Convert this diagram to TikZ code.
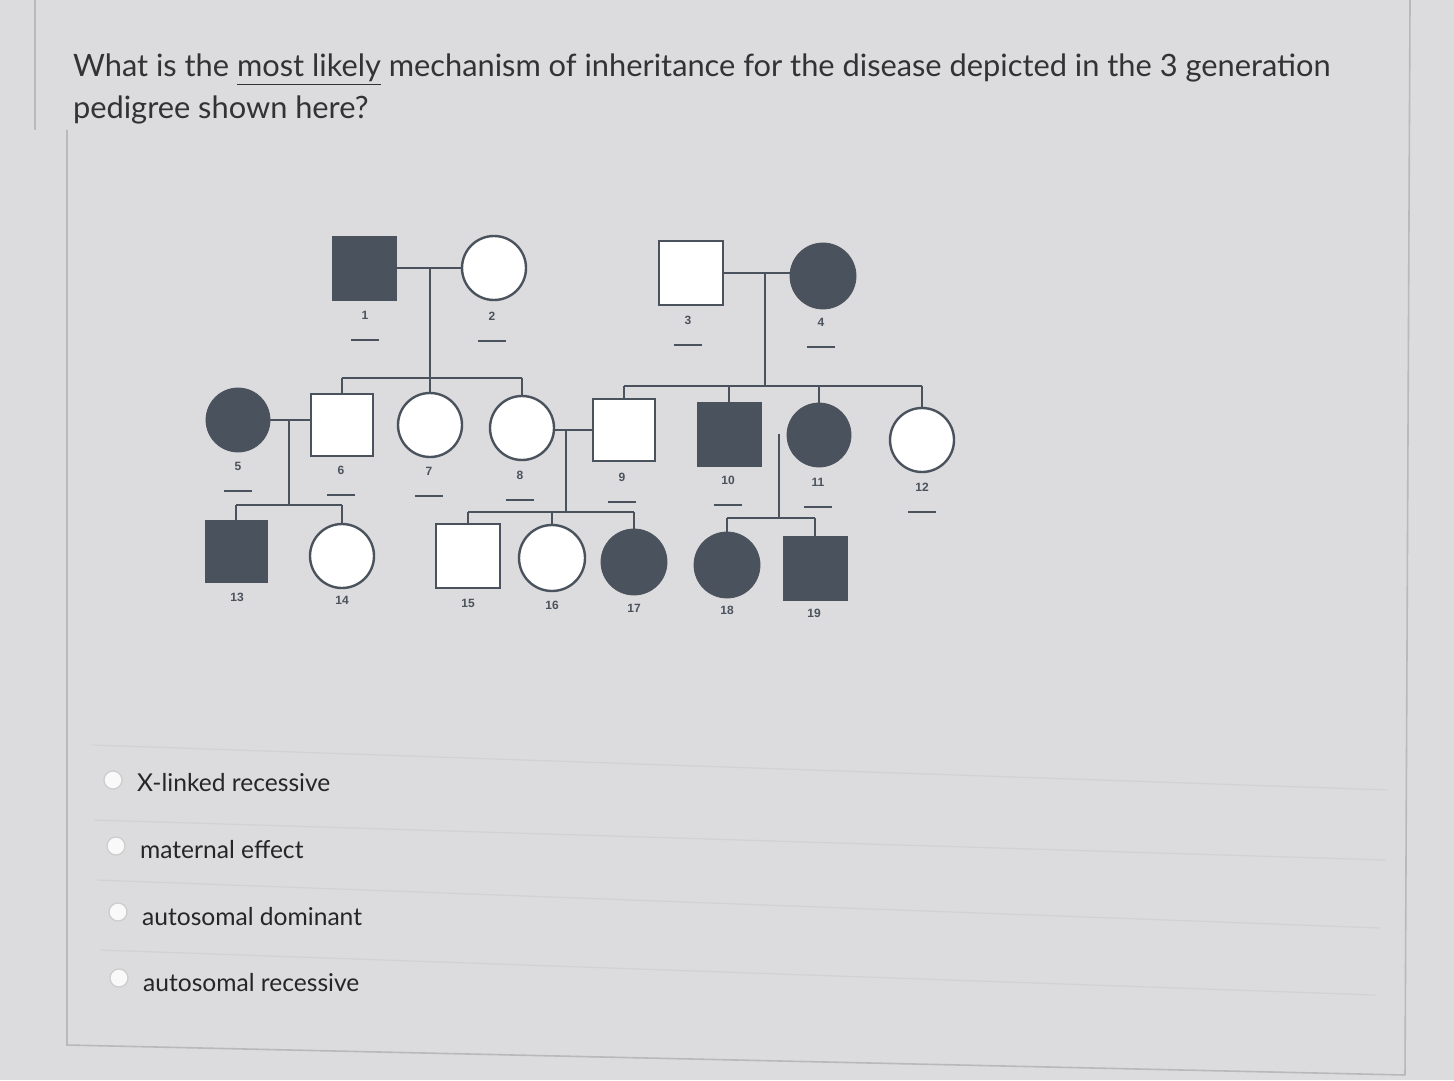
\documentclass[tikz,border=0pt]{standalone}
\usepackage{fontspec}
\setmainfont{Lato}
\newfontfamily\numf{Liberation Sans}
\begin{document}
\begin{tikzpicture}[x=0.5pt,y=-0.5pt,
  aff/.style={fill=dk,draw=dk},
  un/.style={fill=white,draw=dk,line width=1.2pt},
  ln/.style={draw=dk,line width=0.9pt},
  num/.style={font=\numf\fontsize{6}{7}\selectfont\bfseries,text=dk},
  opt/.style={font=\fontsize{12.3}{14}\selectfont,text=black!85,anchor=west},
  rad/.style={draw=gray!40,fill=white!95!gray,line width=0.6pt},
  sep/.style={draw=gray!35,line width=0.6pt}]
\definecolor{dk}{HTML}{4A535D}
\definecolor{bg}{HTML}{DCDBDD}
\fill[bg] (0,0) rectangle (1454,1080);
\useasboundingbox (0,0) rectangle (1454,1080);
\draw[gray!55,line width=0.8pt] (35,0) -- (35,130) (67,130) -- (67,1045) -- (1405,1075) (1410,0) -- (1405,1075);
\node[anchor=west,font=\fontsize{15.4}{18}\selectfont,text=black!80] (t1) at (66,70) {What is the \underline{most likely} mechanism of inheritance for the disease depicted in the 3 generation};
\node[anchor=west,font=\fontsize{15.4}{18}\selectfont,text=black!80] (t2) at (66,110) {pedigree shown here?};
% generation I
\node[aff,minimum size=32pt,inner sep=0,rectangle] (p1) at (364,268) {};
\node[un,circle,minimum size=32pt,inner sep=0] (p2) at (494,268) {};
\node[un,rectangle,minimum size=32pt,inner sep=0] (p3) at (691,273) {};
\node[aff,circle,minimum size=33pt,inner sep=0] (p4) at (823,276) {};
% generation II
\node[aff,circle,minimum size=32pt,inner sep=0] (p5) at (238,420) {};
\node[un,rectangle,minimum size=31pt,inner sep=0] (p6) at (342,425) {};
\node[un,circle,minimum size=32pt,inner sep=0] (p7) at (430,425) {};
\node[un,circle,minimum size=32pt,inner sep=0] (p8) at (522,428) {};
\node[un,rectangle,minimum size=31pt,inner sep=0] (p9) at (624,430) {};
\node[aff,rectangle,minimum size=32pt,inner sep=0] (p10) at (729,434) {};
\node[aff,circle,minimum size=32pt,inner sep=0] (p11) at (819,435) {};
\node[un,circle,minimum size=32pt,inner sep=0] (p12) at (922,440) {};
% generation III
\node[aff,rectangle,minimum size=31pt,inner sep=0] (p13) at (236,551) {};
\node[un,circle,minimum size=32pt,inner sep=0] (p14) at (342,556) {};
\node[un,rectangle,minimum size=32pt,inner sep=0] (p15) at (468,556) {};
\node[un,circle,minimum size=33pt,inner sep=0] (p16) at (552,558) {};
\node[aff,circle,minimum size=33pt,inner sep=0] (p17) at (634,562) {};
\node[aff,circle,minimum size=33pt,inner sep=0] (p18) at (727,565) {};
\node[aff,rectangle,minimum size=32pt,inner sep=0] (p19) at (815,568) {};
% marriages and descent
\coordinate (m12) at (430,268); \coordinate (s12) at (430,378);
\draw[ln] (p1.east) -- (p2.west) (m12) -- (s12) (p6.north|-s12) -- (p8.north|-s12);
\foreach \c in {p6,p7,p8} \draw[ln] (\c.north|-s12) -- (\c.north);
\coordinate (m34) at (765,273); \coordinate (s34) at (765,386);
\draw[ln] (p3.east) -- (m34|-p3.east) (m34|-p3.east) -- (p4.west|-p3.east) (m34) -- (s34) (p9.north|-s34) -- (p12.north|-s34);
\foreach \c in {p9,p10,p11,p12} \draw[ln] (\c.north|-s34) -- (\c.north);
\coordinate (m56) at (289,420); \coordinate (s56) at (289,505);
\draw[ln] (p5.east) -- (p6.west|-p5.east) (m56) -- (s56) (p13.north|-s56) -- (p14.north|-s56);
\foreach \c in {p13,p14} \draw[ln] (\c.north|-s56) -- (\c.north);
\coordinate (m89) at (566,430); \coordinate (s89) at (566,512);
\draw[ln] (p8.east|-m89) -- (p9.west|-m89) (m89) -- (s89) (p15.north|-s89) -- (p17.north|-s89);
\foreach \c in {p15,p16,p17} \draw[ln] (\c.north|-s89) -- (\c.north);
\coordinate (m1011) at (779,434); \coordinate (s1011) at (779,518);
\draw[ln] (m1011) -- (s1011) (p18.north|-s1011) -- (p19.north|-s1011);
\foreach \c in {p18,p19} \draw[ln] (\c.north|-s1011) -- (\c.north);
% labels gen I/II
\foreach \n/\x/\y in {1/365/315,2/492/316,3/688/320,4/821/322,5/238/466,6/341/470,7/429/471,8/520/475,9/622/477,10/728/480,11/818/482,12/922/487}{
  \node[num] (l\n) at (\x,\y) {\n};
  \draw[ln,line width=0.7pt] (\x-14,\y+25) -- (\x+14,\y+25);
}
\foreach \n/\x/\y in {13/237/597,14/342/600,15/468/603,16/552/605,17/634/608,18/727/610,19/814/613}{
  \node[num] (l\n) at (\x,\y) {\n};
}
% options
\draw[sep] (92,745) -- (1388,790);
\draw[sep] (95,820) -- (1385,860);
\draw[sep] (97,880) -- (1380,928);
\draw[sep] (100,950) -- (1375,995);
\node[rad,circle,minimum size=9pt,inner sep=0] (r1) at (113,780) {};
\node[opt] (o1) at (130,783) {X-linked recessive};
\node[rad,circle,minimum size=9pt,inner sep=0] (r2) at (116,846) {};
\node[opt] (o2) at (133,850) {maternal effect};
\node[rad,circle,minimum size=9pt,inner sep=0] (r3) at (118,912) {};
\node[opt] (o3) at (135,917) {autosomal dominant};
\node[rad,circle,minimum size=9pt,inner sep=0] (r4) at (119,978) {};
\node[opt] (o4) at (136,983) {autosomal recessive};
\end{tikzpicture}
\end{document}
